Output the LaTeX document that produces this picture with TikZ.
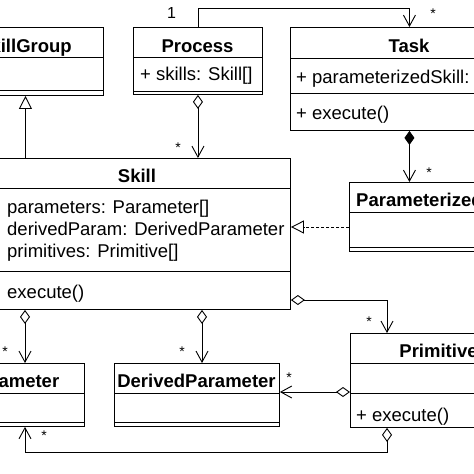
\documentclass[tikz,border=0pt]{standalone}
\usepackage{fontspec}
\setmainfont{Liberation Sans}
\usetikzlibrary{arrows.meta}
\tikzset{
  box/.style={draw, line width=0.9pt, inner sep=0, anchor=north west},
  sep/.style={line width=0.9pt},
  hd/.style={font=\bfseries\fontsize{18.5}{22}\selectfont, anchor=base, inner sep=0},
  attr/.style={font=\fontsize{18.5}{22}\selectfont, anchor=base west, inner sep=0},
  lbl/.style={font=\fontsize{14}{16}\selectfont, anchor=base, inner sep=0},
  conn/.style={line width=0.9pt},
  barb/.style={-{Straight Barb[length=11pt,width=12pt]}},
  agg/.style={{Diamond[open,length=14pt,width=10pt]}-{Straight Barb[length=11pt,width=12pt]}},
  comp/.style={{Diamond[fill=black,length=14pt,width=10pt]}-{Straight Barb[length=11pt,width=12pt]}},
  gen/.style={-{Triangle[open,length=13pt,width=13pt]}},
}
\begin{document}
\begin{tikzpicture}[x=1pt,y=-1pt]
\fill[white] (0,0) rectangle (474,474);
\useasboundingbox (0,0) rectangle (474,474);
\clip (0,0) rectangle (474,474);
% helper coordinates
\coordinate (colA) at (25,0);
\coordinate (colB) at (202,0);
\coordinate (colC) at (387,0);
\coordinate (rowE) at (0,227);
\coordinate (rowF) at (0,300);
\coordinate (rowG) at (0,392);
\coordinate (rowH) at (0,452);
% SkillGroup
\node[box, minimum width=156pt, minimum height=68pt] (sg) at (-53,27) {};
\draw[sep] (-53,57) -- (103,57); \draw[sep] (-53,90) -- (103,90);
\node[hd] (sgh) at (25,52) {SkillGroup};
% Process
\node[box, minimum width=129pt, minimum height=67pt] (process) at (133,27) {};
\draw[sep] (133,57) -- (262,57); \draw[sep] (133,91) -- (262,91);
\node[hd] (proch) at (197.5,52) {Process};
\node[attr] (proca) at (140,80) {+ skills: Skill[]};
% Task
\node[box, minimum width=238pt, minimum height=103pt] (task) at (290,27) {};
\draw[sep] (290,58) -- (528,58); \draw[sep] (290,93) -- (528,93);
\node[hd] (taskh) at (409,52) {Task};
\node[attr] (taska) at (296,83) {+ parameterizedSkill:};
\node[attr] (tasko) at (296,119) {+ execute()};
% Skill
\node[box, minimum width=306pt, minimum height=151pt] (skill) at (-16,158) {};
\draw[sep] (-16,188) -- (290,188); \draw[sep] (-16,271) -- (290,271);
\node[hd] (skillh) at (137,182) {Skill};
\node[attr] (skilla1) at (7,213) {parameters: Parameter[]};
\node[attr] (skilla2) at (7,235) {derivedParam: DerivedParameter};
\node[attr] (skilla3) at (7,257) {primitives: Primitive[]};
\node[attr] (skillo) at (7,298) {execute()};
% ParameterizedSkill
\node[box, minimum width=179pt, minimum height=69pt] (ps) at (349,182) {};
\draw[sep] (349,212) -- (528,212); \draw[sep] (349,247) -- (528,247);
\node[hd] (psh) at (438.5,206) {ParameterizedSkill};
% Parameter
\node[box, minimum width=140pt, minimum height=63pt] (param) at (-56,363) {};
\draw[sep] (-56,393) -- (84,393); \draw[sep] (-56,422) -- (84,422);
\node[hd] (paramh) at (14,387) {Parameter};
% DerivedParameter
\node[box, minimum width=165pt, minimum height=63pt] (dp) at (114,363) {};
\draw[sep] (114,393) -- (279,393); \draw[sep] (114,422) -- (279,422);
\node[hd] (dph) at (196.5,387) {DerivedParameter};
% Primitive
\node[box, minimum width=177pt, minimum height=94pt] (prim) at (350,333) {};
\draw[sep] (350,363) -- (527,363); \draw[sep] (350,393) -- (527,393);
\node[hd] (primh) at (438.5,357) {Primitive};
\node[attr] (primo) at (356,421) {+ execute()};
% connectors
\draw[conn, barb] (process.north) -- ++(0,-19) -| (task.north);
\draw[conn, agg] (process.south) -- (process.south |- skill.north);
\draw[conn, gen] (sg.south |- skill.north) -- (sg.south);
\draw[conn, comp] (task.south) -- (task.south |- ps.north);
\draw[conn, dash pattern=on 3pt off 2pt, gen] (ps.west |- rowE) -- (skill.east |- rowE);
\draw[conn, agg] (skill.east |- rowF) -| (colC |- prim.north);
\draw[conn, agg] (prim.west |- rowG) -- (dp.east |- rowG);
\draw[conn, agg] (prim.south -| colC) -- (colC |- rowH) -| (param.south -| colA);
\draw[conn, agg] (skill.south -| colA) -- (param.north -| colA);
\draw[conn, agg] (skill.south -| colB) -- (dp.north -| colB);
% multiplicities
\node[lbl, font=\fontsize{16}{18}\selectfont] (m1) at (171.5,18) {1};
\node[lbl] (m2) at (433,18) {*};
\node[lbl] (m3) at (178,152) {*};
\node[lbl] (m4) at (429,177) {*};
\node[lbl] (m5) at (369,326) {*};
\node[lbl] (m6) at (289,382) {*};
\node[lbl] (m7) at (5,356) {*};
\node[lbl] (m8) at (182,356) {*};
\node[lbl] (m9) at (44,440) {*};
\end{tikzpicture}
\end{document}
